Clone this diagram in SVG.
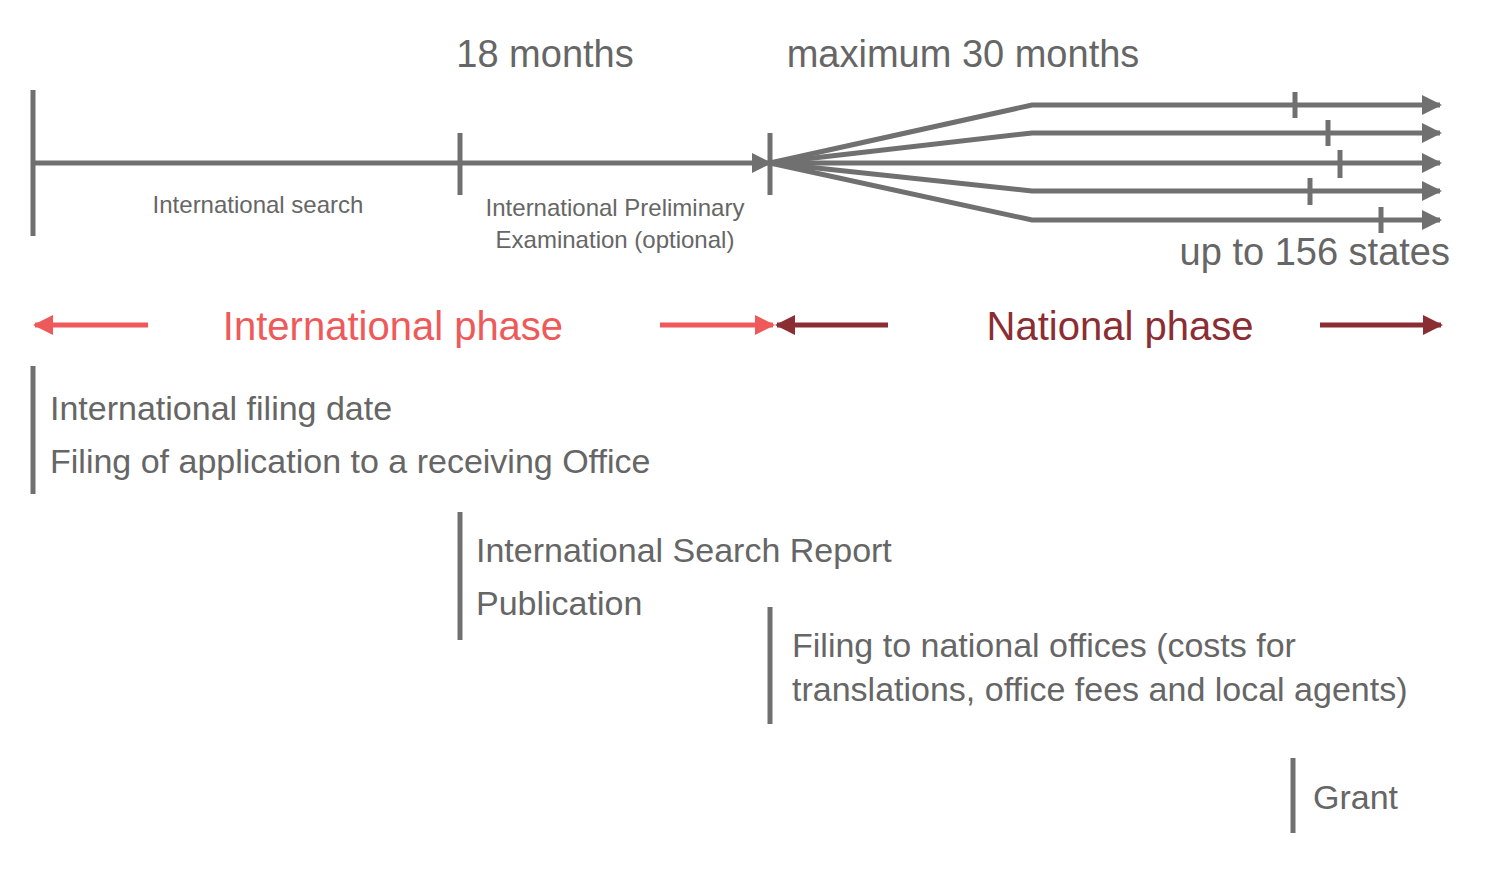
<svg xmlns="http://www.w3.org/2000/svg" width="1500" height="874" viewBox="0 0 1500 874">
<style>
.g{stroke:#707070;stroke-width:5;fill:none}
.t{font-family:"Helvetica Neue","Liberation Sans",Arial,sans-serif;fill:#666}
.big{font-size:38px}
.mid{font-size:34px}
.sm{font-size:24px}
</style>
<defs>
<marker id="ag" viewBox="0 0 10 10" refX="9" refY="5" markerWidth="4.5" markerHeight="4" orient="auto" markerUnits="strokeWidth"><path d="M0,0L10,5L0,10z" fill="#707070"/></marker>
<marker id="ar" viewBox="0 0 10 10" refX="9" refY="5" markerWidth="4.5" markerHeight="4" orient="auto" markerUnits="strokeWidth"><path d="M0,0L10,5L0,10z" fill="#ee5a5a"/></marker>
<marker id="ad" viewBox="0 0 10 10" refX="9" refY="5" markerWidth="4.5" markerHeight="4" orient="auto" markerUnits="strokeWidth"><path d="M0,0L10,5L0,10z" fill="#8b2e33"/></marker>
</defs>
<rect width="1500" height="874" fill="#fff"/>
<g id="connectors">
<line class="g" x1="33" y1="163" x2="770" y2="163" marker-end="url(#ag)"/>
<line class="g" x1="33" y1="90" x2="33" y2="236"/>
<line class="g" x1="460" y1="133" x2="460" y2="195"/>
<line class="g" x1="770" y1="133" x2="770" y2="195"/>
<path class="g" d="M770,163L1032,105H1440" marker-end="url(#ag)"/>
<path class="g" d="M770,163L1032,133H1440" marker-end="url(#ag)"/>
<path class="g" d="M770,163H1440" marker-end="url(#ag)"/>
<path class="g" d="M770,163L1032,191H1440" marker-end="url(#ag)"/>
<path class="g" d="M770,163L1032,220H1440" marker-end="url(#ag)"/>
<line class="g" x1="1295" y1="92" x2="1295" y2="118"/>
<line class="g" x1="1328" y1="120" x2="1328" y2="146"/>
<line class="g" x1="1340" y1="150" x2="1340" y2="178"/>
<line class="g" x1="1310" y1="178" x2="1310" y2="205"/>
<line class="g" x1="1381" y1="207" x2="1381" y2="233"/>
<line x1="148" y1="325" x2="35" y2="325" stroke="#ee5a5a" stroke-width="5" marker-end="url(#ar)"/>
<line x1="660" y1="325" x2="773" y2="325" stroke="#ee5a5a" stroke-width="5" marker-end="url(#ar)"/>
<line x1="888" y1="325" x2="777" y2="325" stroke="#8b2e33" stroke-width="5" marker-end="url(#ad)"/>
<line x1="1320" y1="325" x2="1441" y2="325" stroke="#8b2e33" stroke-width="5" marker-end="url(#ad)"/>
</g>
<g id="labels">
<text class="t big" x="545" y="67" text-anchor="middle">18 months</text>
<text class="t big" x="963" y="67" text-anchor="middle">maximum 30 months</text>
<text class="t sm" x="258" y="213" text-anchor="middle">International search</text>
<text class="t sm" x="615" y="216" text-anchor="middle">International Preliminary</text>
<text class="t sm" x="615" y="248" text-anchor="middle">Examination (optional)</text>
<text class="t big" x="1450" y="265" text-anchor="end">up to 156 states</text>
<text class="t" x="393" y="340" text-anchor="middle" font-size="40" style="fill:#ee5a5a">International phase</text>
<text class="t" x="1120" y="340" text-anchor="middle" font-size="40" style="fill:#8b2e33">National phase</text>
</g>
<g id="n1"><line class="g" x1="33" y1="366" x2="33" y2="494"/>
<text class="t mid" x="50" y="420">International filing date</text>
<text class="t mid" x="50" y="473">Filing of application to a receiving Office</text></g>
<g id="n2"><line class="g" x1="460" y1="512" x2="460" y2="640"/>
<text class="t mid" x="476" y="562">International Search Report</text>
<text class="t mid" x="476" y="615">Publication</text></g>
<g id="n3"><line class="g" x1="770" y1="607" x2="770" y2="724"/>
<text class="t mid" x="792" y="657">Filing to national offices (costs for</text>
<text class="t mid" x="792" y="701">translations, office fees and local agents)</text></g>
<g id="n4"><line class="g" x1="1293" y1="758" x2="1293" y2="833"/>
<text class="t mid" x="1313" y="809">Grant</text></g>
</svg>
